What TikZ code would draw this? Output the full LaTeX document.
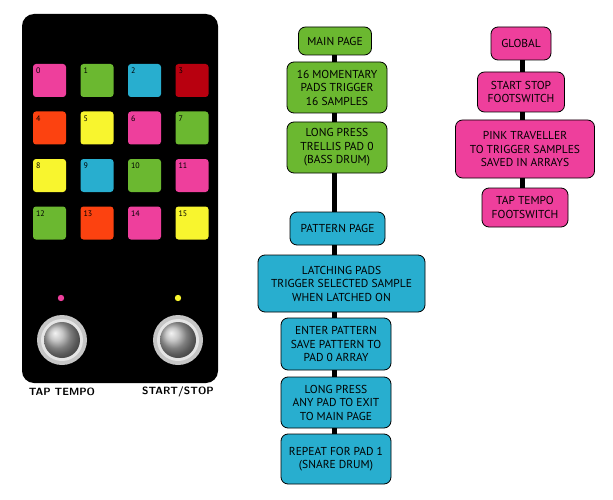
\documentclass[tikz,border=0pt]{standalone}
\usepackage{fontspec}
\setmainfont{PT Sans}
\begin{document}
\begin{tikzpicture}[x=1pt,y=-1pt,
  box/.style={draw=black,line width=0.8pt,rounded corners=7pt,align=center,font=\fontsize{11.5}{13.5}\selectfont,inner sep=2pt},
  gbox/.style={box,fill=pgreen},bbox/.style={box,fill=pblue},kbox/.style={box,fill=ppink},
  pad/.style={rounded corners=3pt,minimum size=33pt,inner sep=0pt},
  num/.style={font=\fontsize{8}{8}\selectfont,anchor=north west,inner sep=0pt},
  link/.style={line width=5pt,black}]
\definecolor{pgreen}{HTML}{6BB830}
\definecolor{pblue}{HTML}{28AECF}
\definecolor{ppink}{HTML}{EE3F9C}
\definecolor{pred}{HTML}{B8000F}
\definecolor{porange}{HTML}{FC4210}
\definecolor{pyellow}{HTML}{F8F52E}
\useasboundingbox (0,0) rectangle (613,500);
\fill[white] (0,0) rectangle (613,500);
% pedal
\fill[black,rounded corners=12pt] (22,14) rectangle (218,383);
\foreach \c [count=\i from 0] in {ppink,pgreen,pblue,pred,porange,pyellow,ppink,pgreen,pyellow,pblue,pgreen,ppink,pgreen,porange,ppink,pyellow}{
  \pgfmathtruncatemacro{\col}{mod(\i,4)}
  \pgfmathtruncatemacro{\row}{div(\i,4)}
  \node[pad,fill=\c] (p\i) at (49.5+47.5*\col, 80.5+47.5*\row) {};
  \node[num] at ([shift={(3,4)}]p\i.north west) {\i};
}
\fill[ppink] (61,298) circle (3.2);
\fill[pyellow] (178,298) circle (3.2);
\foreach \x/\n in {62/fa,178/fb}{
  \fill[gray!45] (\x,340) circle (25);
  \fill[gray!20] (\x,340) circle (21);
  \shade[ball color=gray!60] (\x,340) circle (18);
}
\node[font=\bfseries\sffamily\fontsize{10.5}{12}\selectfont] (lt) at (62,392) {TAP TEMPO};
\node[font=\bfseries\sffamily\fontsize{10.5}{12}\selectfont] (ls) at (178,392) {START/STOP};
% left flow
\node[gbox,minimum width=73pt,minimum height=28pt] (a1) at (335,41) {MAIN PAGE};
\node[gbox,minimum width=100pt,minimum height=51pt] (a2) at (337,87.5) {16 MOMENTARY\\PADS TRIGGER\\16 SAMPLES};
\node[gbox,minimum width=100pt,minimum height=51pt] (a3) at (337,147.5) {LONG PRESS\\TRELLIS PAD 0\\(BASS DRUM)};
\node[bbox,minimum width=95pt,minimum height=33pt] (a4) at (337.5,228.5) {PATTERN PAGE};
\node[bbox,minimum width=167pt,minimum height=57pt] (a5) at (341.5,283.5) {LATCHING PADS\\TRIGGER SELECTED SAMPLE\\WHEN LATCHED ON};
\node[bbox,minimum width=110pt,minimum height=52pt] (a6) at (336,344) {ENTER PATTERN\\SAVE PATTERN TO\\PAD 0 ARRAY};
\node[bbox,minimum width=110pt,minimum height=51pt] (a7) at (336,402.5) {LONG PRESS\\ANY PAD TO EXIT\\TO MAIN PAGE};
\node[bbox,minimum width=110pt,minimum height=50pt] (a8) at (336,459) {REPEAT FOR PAD 1\\(SNARE DRUM)};
% right flow
\node[kbox,minimum width=60pt,minimum height=33pt] (b1) at (521,43.5) {GLOBAL};
\node[kbox,minimum width=87pt,minimum height=40pt] (b2) at (521,92) {START STOP\\FOOTSWITCH};
\node[kbox,minimum width=139pt,minimum height=58pt] (b3) at (525,149) {PINK TRAVELLER\\TO TRIGGER SAMPLES\\SAVED IN ARRAYS};
\node[kbox,minimum width=86pt,minimum height=39pt] (b4) at (525,207.5) {TAP TEMPO\\FOOTSWITCH};
\begin{scope}[on background layer/.try]
\end{scope}
\foreach \u/\v in {a1/a2,a2/a3,a3/a4,a4/a5,a5/a6,a6/a7,a7/a8}{
  \draw[link] (\u.south -| 334,0) -- (\v.north -| 334,0);}
\draw[link] (b1.south -| 522,0) -- (b2.north -| 522,0);
\draw[link] (b2.south -| 522,0) -- (b3.north -| 522,0);
\draw[link] (b3.south -| 522,0) -- (b4.north -| 522,0);
\end{tikzpicture}
\end{document}
